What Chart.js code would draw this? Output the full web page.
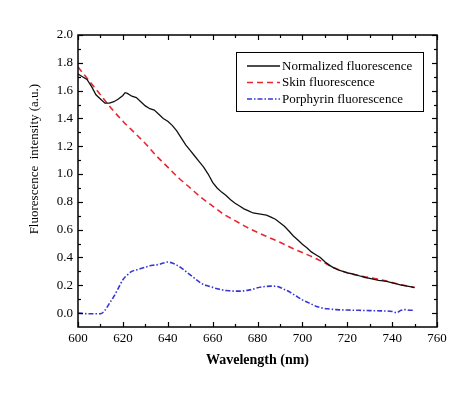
<!DOCTYPE html>
<html><head><meta charset="utf-8">
<script src="https://cdn.jsdelivr.net/npm/chart.js@4/dist/chart.umd.min.js"></script>
<style>html,body{margin:0;padding:0;background:#fff}</style>
</head><body>
<canvas id="c" width="474" height="398" style="display:block;width:474px;height:398px"></canvas>
<script>
// ---- data ----
const seriesLabels = ['Normalized fluorescence', 'Skin fluorescence', 'Porphyrin fluorescence'];

const normWavelength = [600,602,604,606,608,610,612,614,616,618,620,621,622,624,626,628,630,632,634,636,638,640,642,644,646,648,650,652,654,656,658,660,662,664,666,668,670,672,674,676,678,680,682,684,686,688,690,692,694,696,698,700,702,704,706,708,710,712,714,716,718,720,722,724,726,728,730,732,734,736,738,740,742,744,746,748,750];
const normValues = [1.72,1.70,1.68,1.63,1.57,1.54,1.51,1.51,1.52,1.54,1.565,1.585,1.58,1.56,1.55,1.52,1.49,1.47,1.46,1.43,1.40,1.38,1.35,1.31,1.26,1.21,1.17,1.13,1.09,1.05,1.00,0.94,0.90,0.87,0.845,0.815,0.79,0.77,0.75,0.735,0.72,0.715,0.71,0.705,0.69,0.675,0.65,0.625,0.59,0.555,0.525,0.495,0.47,0.44,0.42,0.40,0.37,0.345,0.325,0.31,0.30,0.29,0.283,0.275,0.265,0.256,0.25,0.242,0.236,0.231,0.226,0.218,0.21,0.202,0.196,0.19,0.183];

const skinWavelength = [600,605,610,615,620,625,630,635,640,645,650,655,660,665,670,675,680,685,690,695,700,705,710,715,720,725,730,735,740,745,750];
const skinValues = [1.77,1.67,1.57,1.47,1.38,1.30,1.22,1.13,1.05,0.97,0.90,0.83,0.77,0.71,0.665,0.62,0.58,0.545,0.51,0.47,0.435,0.40,0.36,0.32,0.29,0.27,0.255,0.24,0.22,0.20,0.185];

const porphWavelength = [600,605,610,612,614,616,618,620,622,624,626,628,630,632,634,636,638,640,642,644,646,648,650,652,654,656,658,660,662,664,666,668,670,672,674,676,678,680,682,684,686,688,690,692,694,696,698,700,702,704,706,708,710,712,715,720,725,730,735,740,742,744,746,748,750];
const porphValues = [0.0,-0.005,-0.005,0.02,0.07,0.12,0.18,0.24,0.275,0.30,0.31,0.32,0.33,0.34,0.345,0.35,0.36,0.367,0.36,0.345,0.325,0.30,0.275,0.25,0.225,0.205,0.195,0.185,0.175,0.168,0.162,0.16,0.158,0.158,0.16,0.165,0.172,0.182,0.188,0.192,0.194,0.193,0.185,0.17,0.155,0.135,0.115,0.095,0.08,0.065,0.05,0.04,0.033,0.03,0.025,0.022,0.02,0.018,0.016,0.012,0.003,0.02,0.025,0.02,0.02];

const xTickValues = [600,620,640,660,680,700,720,740,760];
const yTickValues = [0.0,0.2,0.4,0.6,0.8,1.0,1.2,1.4,1.6,1.8,2.0];
const xTitle = 'Wavelength (nm)';
const yTitle = 'Fluorescence  intensity (a.u.)';

// ---- chart ----
const FONT = '"Liberation Serif", "Times New Roman", serif';
const toPoints = (xs, ys) => xs.map((x, i) => ({x, y: ys[i]}));

const framePlugin = {
  id: 'frame',
  afterDatasetsDraw(chart) {
    const {ctx, chartArea: a, scales: {x, y}} = chart;
    ctx.save();
    ctx.strokeStyle = '#000';
    ctx.lineWidth = 1.5;
    ctx.strokeRect(a.left, a.top, a.right - a.left, a.bottom - a.top);
    ctx.lineWidth = 1.2;
    const tick = (x1, y1, x2, y2) => { ctx.beginPath(); ctx.moveTo(x1, y1); ctx.lineTo(x2, y2); ctx.stroke(); };
    const xs = [];
    xTickValues.forEach((v, i) => { xs.push([v, 5]); if (i < xTickValues.length - 1) xs.push([(v + xTickValues[i + 1]) / 2, 3]); });
    xs.forEach(([v, len]) => {
      const p = Math.round(x.getPixelForValue(v)) + 0.5;
      tick(p, a.bottom, p, a.bottom - len);
      tick(p, a.top, p, a.top + len);
    });
    const ys = [];
    yTickValues.forEach((v, i) => { ys.push([v, 5]); if (i < yTickValues.length - 1) ys.push([(v + yTickValues[i + 1]) / 2, 3]); });
    ys.forEach(([v, len]) => {
      const p = Math.round(y.getPixelForValue(v)) + 0.5;
      tick(a.left, p, a.left + len, p);
      tick(a.right, p, a.right - len, p);
    });
    // y axis title
    ctx.fillStyle = '#000';
    ctx.font = '13px ' + FONT;
    ctx.textAlign = 'center';
    ctx.textBaseline = 'middle';
    ctx.translate(35, a.top + (a.bottom - a.top) * 0.425);
    ctx.rotate(-Math.PI / 2);
    ctx.fillText(yTitle, 0, 0);
    ctx.restore();
  }
};

const legendPlugin = {
  id: 'boxLegend',
  afterDraw(chart) {
    const {ctx, chartArea: a} = chart;
    const bx = a.left + 158, by = a.top + 17, bw = 187, bh = 59;
    ctx.save();
    ctx.fillStyle = '#fff';
    ctx.fillRect(bx, by, bw, bh);
    ctx.strokeStyle = '#000';
    ctx.lineWidth = 1;
    ctx.strokeRect(bx + 0.5, by + 0.5, bw, bh);
    ctx.font = '13px ' + FONT;
    ctx.textBaseline = 'middle';
    ctx.textAlign = 'left';
    chart.data.datasets.forEach((ds, i) => {
      const ly = by + 14 + i * 16.5;
      ctx.beginPath();
      ctx.strokeStyle = ds.borderColor;
      ctx.lineWidth = ds.borderWidth;
      ctx.setLineDash(ds.borderDash || []);
      ctx.moveTo(bx + 11, ly);
      ctx.lineTo(bx + 44, ly);
      ctx.stroke();
      ctx.setLineDash([]);
      ctx.fillStyle = '#000';
      ctx.fillText(ds.label, bx + 46, ly + 0.5);
    });
    ctx.restore();
  }
};

new Chart(document.getElementById('c'), {
  type: 'line',
  data: {
    datasets: [
      {label: seriesLabels[0], data: toPoints(normWavelength, normValues), borderColor: '#111111', borderWidth: 1.3, pointRadius: 0, tension: 0},
      {label: seriesLabels[1], data: toPoints(skinWavelength, skinValues), borderColor: '#e8262e', borderWidth: 1.6, borderDash: [6, 4], pointRadius: 0, cubicInterpolationMode: 'monotone'},
      {label: seriesLabels[2], data: toPoints(porphWavelength, porphValues), borderColor: '#3636d6', borderWidth: 1.6, borderDash: [5, 2, 1.5, 2], pointRadius: 0, cubicInterpolationMode: 'monotone'}
    ]
  },
  options: {
    responsive: false,
    animation: false,
    devicePixelRatio: 1,
    layout: {padding: {top: 35, right: 37, left: 0, bottom: 0}},
    plugins: {legend: {display: false}, tooltip: {enabled: false}},
    scales: {
      x: {
        type: 'linear', min: 600, max: 760,
        afterBuildTicks: s => { s.ticks = xTickValues.map(v => ({value: v})); },
        afterFit: s => { s.height = 71; },
        grid: {display: false, drawTicks: false},
        border: {display: false},
        ticks: {color: '#000', font: {family: FONT, size: 13}, padding: 4, maxRotation: 0, callback: v => String(v)},
        title: {display: true, text: xTitle, color: '#000', font: {family: FONT, size: 14, weight: 'bold'}, padding: {top: 0, bottom: 29}}
      },
      y: {
        type: 'linear', min: -0.1, max: 2.0,
        afterBuildTicks: s => { s.ticks = yTickValues.map(v => ({value: v})); },
        afterFit: s => { s.width = 78; },
        grid: {display: false, drawTicks: false},
        border: {display: false},
        ticks: {color: '#000', font: {family: FONT, size: 13}, padding: 5, callback: v => Number(v).toFixed(1)}
      }
    }
  },
  plugins: [framePlugin, legendPlugin]
});
</script>
</body></html>
